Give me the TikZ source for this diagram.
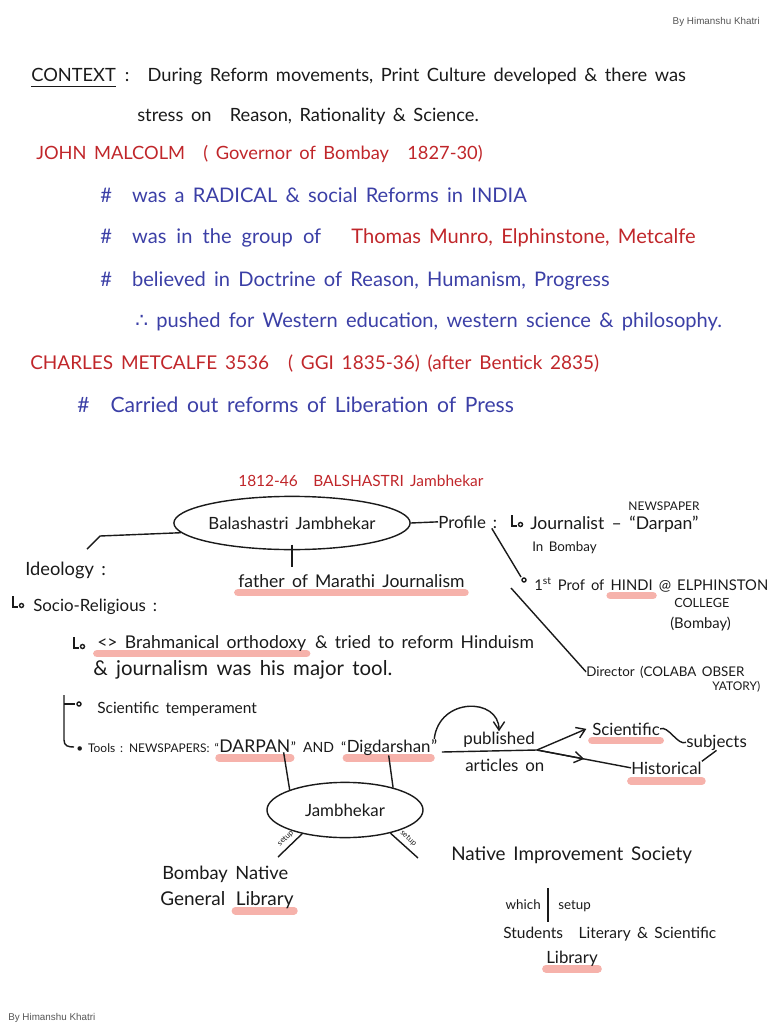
\documentclass[tikz,border=0pt]{standalone}
\usepackage{fontspec}
\setmainfont{Lato}[WordSpace=1.6]
\newfontfamily\credfont{Liberation Sans}
\newfontfamily\symfont{DejaVu Sans}
\usetikzlibrary{positioning,shapes.geometric,arrows.meta,backgrounds,calc}
\definecolor{ink}{HTML}{1A1A1A}
\definecolor{penred}{HTML}{C0262A}
\definecolor{penblue}{HTML}{3B3FA6}
\definecolor{marker}{HTML}{F4A49C}
\definecolor{credgray}{HTML}{555555}

\begin{document}
\begin{tikzpicture}[x=0.025cm, y=-0.025cm,
    note/.style={anchor=base west, inner sep=0pt, text=ink,
                 font=\fontsize{13}{15}\selectfont},
    rednote/.style={note, text=penred},
    bluenote/.style={note, text=penblue, font=\fontsize{14.3}{16}\selectfont},
    mapnote/.style={note, font=\fontsize{12}{14}\selectfont},
    bignote/.style={note, font=\fontsize{14.5}{16}\selectfont},
    smallnote/.style={note, font=\fontsize{10.5}{12}\selectfont},
    tinynote/.style={note, font=\fontsize{8.5}{10}\selectfont},
    setup/.style={inner sep=1pt, text=ink, font=\fontsize{5.5}{6}\selectfont},
    bubble/.style={ellipse, draw=ink, line width=1pt, inner sep=0pt,
                   font=\fontsize{12}{14}\selectfont, text=ink},
    link/.style={draw=ink, line width=1pt},
    arr/.style={link, -{Straight Barb[length=6pt, width=8pt]}},
    hlt/.style={draw=marker, line width=5.5pt, line cap=round, opacity=0.85},
    credit/.style={inner sep=0pt, font=\credfont\fontsize{7}{8}\selectfont, text=credgray},
    hook/.pic={\draw[link] (0,-11) |- (5,0); \draw[link] (8.5,-1.5) circle [radius=2];}
  ]
  \useasboundingbox (0,0) rectangle (768,1024);

  % Credits
  \node[credit, anchor=east] (credtop) at (760,22) {By Himanshu Khatri};
  \node[credit, anchor=west] (credbot) at (8,1018) {By Himanshu Khatri};

  % Context
  \node[note] (ctx) at (31,82) {CONTEXT};
  \node[note, base right=6pt of ctx] (ctxtext) {:\quad During Reform movements, Print Culture developed \& there was};
  \node[note] (ctxtwo) at (137,122) {stress on\quad Reason, Rationality \& Science.};
  \draw[link] ([yshift=-3pt]ctx.base west) -- ([yshift=-3pt]ctx.base east);

  % Malcolm and Metcalfe
  \node[rednote] (malcolm) at (36,160) {JOHN MALCOLM\quad ( Governor of Bombay\quad 1827-30)};
  \node[bluenote] (radical) at (100,203) {\#\quad was a RADICAL \& social Reforms in INDIA};
  \node[bluenote] (group) at (100,244) {\#\quad was\enspace in\enspace the\enspace group\enspace of\quad\enspace \textcolor{penred}{Thomas Munro, Elphinstone, Metcalfe}};
  \node[bluenote] (doctrine) at (100,286) {\#\quad believed in Doctrine of Reason, Humanism, Progress};
  \node[bluenote] (pushed) at (135,327) {{\symfont ∴} pushed for Western education, western science \& philosophy.};
  \node[rednote, font=\fontsize{13.5}{15}\selectfont] (metcalfe) at (30,369) {CHARLES METCALFE 3536\quad ( GGI 1835-36) (after Bentick 2835)};
  \node[bluenote, font=\fontsize{15}{17}\selectfont] (press) at (77,412) {\#\quad Carried out reforms of Liberation of Press};

  % Balashastri Jambhekar
  \node[rednote, font=\fontsize{11}{13}\selectfont] (bjtitle) at (238,486) {1812-46\quad BALSHASTRI Jambhekar};
  \node[bubble, minimum width=5.7cm, minimum height=1.33cm] (bj) at (292,523) {Balashastri Jambhekar};

  % Profile
  \node[mapnote] (profile) at (438,528) {Profile :};
  \draw[link] (bj.east) -- (profile.west);
  \pic at (512,526) {hook};
  \node[mapnote, font=\fontsize{12.5}{14}\selectfont] (journ) at (530,529) {Journalist –};
  \node[mapnote, font=\fontsize{12.5}{14}\selectfont, base right=5pt of journ] (darpanq) {“Darpan”};
  \node[tinynote, above=3pt of darpanq] (newsp) {NEWSPAPER};
  \node[tinynote, font=\fontsize{9.5}{11}\selectfont] (inbom) at (532,551) {In Bombay};

  \coordinate (profdot) at (521,577);
  \draw[link] ([xshift=-4pt]profile.south east) -- (profdot);
  \draw[link] (524,580) circle [radius=2];
  \node[smallnote] (prof) at (534,590) {1\textsuperscript{st} Prof of};
  \node[smallnote, base right=4pt of prof] (hindi) {HINDI};
  \node[smallnote, base right=4pt of hindi] (elph) {@ ELPHINSTON};
  \node[tinynote, font=\fontsize{9}{11}\selectfont] (college) at (674,607) {COLLEGE};
  \node[smallnote] (bomb) at (670,628) {(Bombay)};

  \coordinate (dirstart) at (511,588);
  \node[tinynote, font=\fontsize{9.5}{11}\selectfont] (director) at (586,676) {Director (COLABA OBSER};
  \node[tinynote] (yatory) at (712,690) {YATORY)};
  \draw[link] (dirstart) -- (director.west);

  \draw[link] ([yshift=4pt]bj.south) -- ([yshift=-12pt]bj.south);
  \node[note, font=\fontsize{12.5}{14}\selectfont] (father) at (238,587) {father of Marathi Journalism};

  % Ideology
  \node[note] (ideo) at (25,575) {Ideology :};
  \coordinate (ideobend) at (100,536);
  \coordinate (ideotip) at (87,549);
  \draw[link] (bj.185) -- (ideobend) -- (ideotip);

  \pic at (13,607) {hook};
  \node[mapnote] (socio) at (33,611) {Socio-Religious :};
  \pic at (74,648) {hook};
  \node[mapnote, font=\fontsize{12.5}{14}\selectfont] (brahma) at (97,648) {<> Brahmanical orthodoxy};
  \node[mapnote, font=\fontsize{12.5}{14}\selectfont, base right=6pt of brahma] (reform) {\& tried to reform Hinduism};
  \node[bignote] (tool) at (93,675) {\& journalism was his major tool.};

  \node[note, font=\fontsize{11}{13}\selectfont] (sctemp) at (97,713) {Scientific temperament};
  \draw[link] (64,695) -- (64,740) .. controls (64,746) and (68,747) .. (74,747);
  \draw[link] (64,704) -- (75,704);
  \draw[link] (79,704) circle [radius=2];

  % Newspapers
  \node[note, font=\fontsize{8.5}{10}\selectfont] (tools) at (76,752) {• Tools : NEWSPAPERS: “};
  \node[note, font=\fontsize{12.5}{14}\selectfont, base right=0pt of tools] (darpan) {DARPAN};
  \node[note, font=\fontsize{10}{12}\selectfont, base right=0pt of darpan] (andq) {”\enspace AND\enspace “};
  \node[mapnote, base right=0pt of andq] (digd) {Digdarshan};
  \node[mapnote, base right=0pt of digd] (digq) {”};
  \node[mapnote] (pub) at (463,744) {published};
  \node[mapnote] (artic) at (465,771) {articles on};
  \draw[arr] (digq.north) .. controls +(5,-42) and +(0,-34) .. (pub.north);

  \coordinate (fork) at (537,750);
  \draw[link] ([xshift=3pt]digq.base east) -- (fork);
  \node[mapnote] (sci) at (592,735) {Scientific};
  \node[mapnote] (hist) at (631,774) {Historical};
  \node[mapnote] (subj) at (686,747) {subjects};
  \draw[arr] (fork) -- ([xshift=-4pt]sci.west);
  \draw[link] (fork) -- (hist.west);
  \draw[arr] (fork) -- ($(fork)!0.5!(hist.west)$);
  \draw[link] (sci.east) .. controls +(8,-4) and +(-8,4) .. (subj.west);
  \draw[link] (hist.north east) -- (subj.south);

  % Jambhekar
  \node[bubble, minimum width=3.9cm, minimum height=1.38cm] (jam) at (345,810) {Jambhekar};
  \draw[link] ([xshift=-5pt]darpan.south east) -- (jam.160);
  \draw[link] (digd.south) -- (jam.25);

  \node[note] (bombay) at (162,879) {Bombay Native};
  \node[note, font=\fontsize{13.5}{15}\selectfont] (general) at (160,905) {General};
  \node[note, font=\fontsize{13.5}{15}\selectfont, base right=7pt of general] (libone) {Library};
  \coordinate (bombayend) at (278,857);
  \draw[link] (jam.209) -- (bombayend) node[pos=0.45, sloped, above=2pt, setup] {setup};

  \node[note, font=\fontsize{13.4}{15}\selectfont] (nis) at (451,860) {Native Improvement Society};
  \coordinate (nisend) at (418,858);
  \draw[link] (jam.-27) -- (nisend) node[pos=0.45, sloped, above=2pt, setup] {setup};

  \coordinate (splittop) at (548,888);
  \coordinate (splitbot) at (548,922);
  \draw[link] (splittop) -- (splitbot);
  \node[tinynote, font=\fontsize{9.5}{11}\selectfont, anchor=base east] (which) at (541,909) {which};
  \node[tinynote, font=\fontsize{9.5}{11}\selectfont] (setupr) at (558,909) {setup};
  \node[note, font=\fontsize{11}{13}\selectfont] (students) at (503,938) {Students\quad Literary \& Scientific};
  \node[mapnote] (libtwo) at (546,963) {Library};

  % Highlighter marks
  \begin{pgfonlayer}{background}
    \draw[hlt] ([yshift=-4pt]father.base west) -- ([yshift=-4pt]father.base east);
    \draw[hlt] ([yshift=-4pt]hindi.base west) -- ([yshift=-4pt]hindi.base east);
    \draw[hlt] ([yshift=-4pt]brahma.base west) -- ([yshift=-4pt]brahma.base east);
    \draw[hlt] ([yshift=-4pt]darpan.base west) -- ([yshift=-4pt]darpan.base east);
    \draw[hlt] ([yshift=-4pt]digd.base west) -- ([yshift=-4pt]digd.base east);
    \draw[hlt] ([yshift=-4pt]sci.base west) -- ([yshift=-4pt]sci.base east);
    \draw[hlt] ([yshift=-5pt]hist.base west) -- ([yshift=-5pt]hist.base east);
    \draw[hlt] ([yshift=-4pt]libone.base west) -- ([yshift=-4pt]libone.base east);
    \draw[hlt] ([yshift=-4pt]libtwo.base west) -- ([yshift=-4pt]libtwo.base east);
  \end{pgfonlayer}

\end{tikzpicture}
\end{document}
